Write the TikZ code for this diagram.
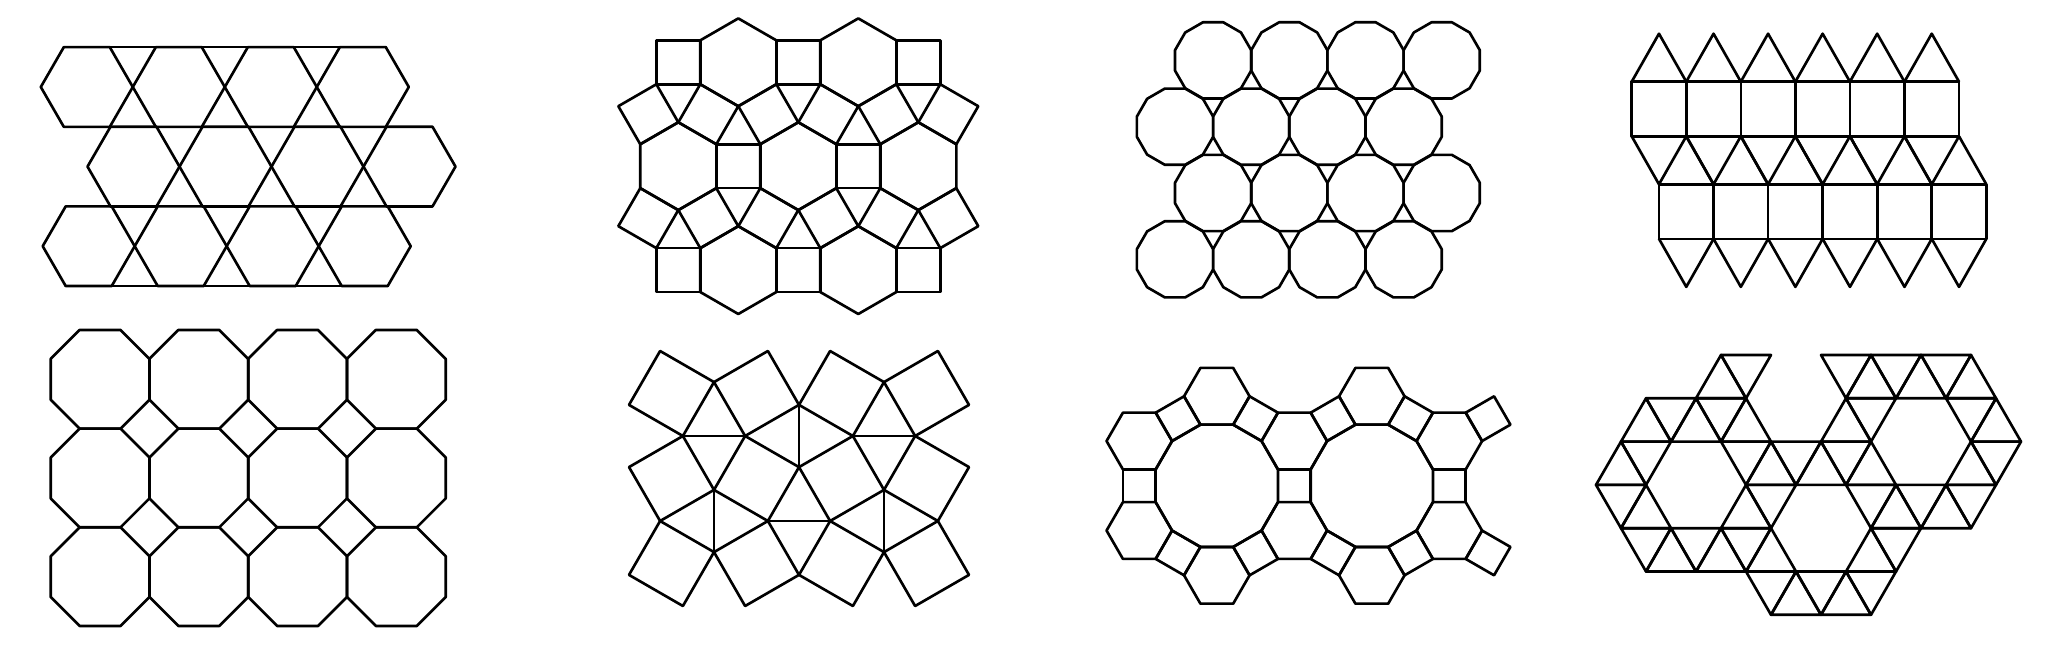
\documentclass[tikz,border=0pt]{standalone}
\tikzset{tile/.style={draw=black,line width=0.75pt,line join=round,line cap=round}}
% regular polygon: cx, cy, sides, circumradius, start angle
\newcommand\rpoly[5]{{\pgfmathtruncatemacro\rpn{#3-1}%
\draw[tile,shift={({#1},{#2})}] ({#5}:#4) \foreach \rk in {1,...,\rpn}{ -- ({#5+\rk*360/#3}:#4)} -- cycle;}}
% triangles on the lattice of the snub hexagonal panel
\newcommand\tU[2]{\draw[tile] ({1596+25*(#1)},{355+43.3*(#2)}) -- ({1596+25*(#1-1)},{355+43.3*(#2+1)}) -- ({1596+25*(#1+1)},{355+43.3*(#2+1)}) -- cycle;}
\newcommand\tD[2]{\draw[tile] ({1596+25*(#1-1)},{355+43.3*(#2)}) -- ({1596+25*(#1+1)},{355+43.3*(#2)}) -- ({1596+25*(#1)},{355+43.3*(#2+1)}) -- cycle;}
\begin{document}
\begin{tikzpicture}[x=0.01cm,y=-0.01cm]
\fill[white] (0,0) rectangle (2048,670);
\useasboundingbox (0,0) rectangle (2048,670);
% ---------- Panel 1: trihexagonal
\foreach \i in {0,...,3}{
  \rpoly{86.8+92*\i}{87}{6}{46}{0}
  \rpoly{133.5+92*\i}{166.6}{6}{46}{0}
  \rpoly{88.7+92*\i}{246.2}{6}{46}{0}
}
\draw[tile] (63.8,47.16) -- (385.8,47.16);
\draw[tile] (65.7,286.04) -- (387.7,286.04);
% ---------- Panel 2: rhombitrihexagonal
\foreach \x/\y in {678.3/166.2,798.3/166.2,918.3/166.2,738.3/62.3,858.3/62.3,738.3/270.1,858.3/270.1}{\rpoly{\x}{\y}{6}{43.9}{30}}
\foreach \x/\y in {678.3/62.3,798.3/62.3,918.3/62.3,738.3/166.2,858.3/166.2,678.3/270.1,798.3/270.1,918.3/270.1}{\rpoly{\x}{\y}{4}{31.04}{45}}
\foreach \x in {678.3,798.3,918.3}{
  \rpoly{\x-30}{114.25}{4}{31.04}{15}
  \rpoly{\x+30}{114.25}{4}{31.04}{75}
  \rpoly{\x-30}{218.15}{4}{31.04}{75}
  \rpoly{\x+30}{218.15}{4}{31.04}{15}
}
% ---------- Panel 3: truncated hexagonal
\foreach \i in {0,...,3}{
  \rpoly{1213.1+76.2*\i}{60.4}{12}{39.44}{15}
  \rpoly{1175+76.2*\i}{126.7}{12}{39.44}{15}
  \rpoly{1213.1+76.2*\i}{193}{12}{39.44}{15}
  \rpoly{1175+76.2*\i}{259.3}{12}{39.44}{15}
}
% ---------- Panel 4: elongated triangular
\foreach \i in {0,...,5}{
  \draw[tile] ({1631.7+54.55*\i},81.7) rectangle ++(54.55,54.6);
  \draw[tile] ({1631.7+54.55*\i},81.7) -- ++(27.275,-48) -- ++(27.275,48);
  \draw[tile] ({1631.7+54.55*\i},136.3) -- ++(27.275,48) -- ++(27.275,-48) -- ++(27.275,48);
  \draw[tile] ({1659+54.55*\i},184.3) rectangle ++(54.55,54.6);
  \draw[tile] ({1659+54.55*\i},238.9) -- ++(27.275,48) -- ++(27.275,-48);
}
% ---------- Panel 5: truncated square
\foreach \i in {0,...,3}{\foreach \j in {0,1,2}{\rpoly{100.1+98.75*\i}{379.3+98.67*\j}{8}{53.42}{22.5}}}
% ---------- Panel 6: snub square
\coordinate (sA) at (660.1,351); \coordinate (sB) at (714,382.1);
\coordinate (sC) at (767.9,351); \coordinate (sD) at (799,404.9);
\coordinate (sE) at (830.1,351); \coordinate (sF) at (884,382.1);
\coordinate (sG) at (937.9,351); \coordinate (sH) at (969,404.9);
\coordinate (sI) at (629,404.9); \coordinate (sJ) at (682.9,436);
\coordinate (sK) at (745.1,436); \coordinate (sL) at (852.9,436);
\coordinate (sM) at (915.1,436); \coordinate (sN) at (799,467.1);
\coordinate (sO) at (629,467.1); \coordinate (sP) at (714,489.9);
\coordinate (sQ) at (884,489.9); \coordinate (sR) at (969,467.1);
\coordinate (sS) at (660.1,521); \coordinate (sT) at (767.9,521);
\coordinate (sU) at (830.1,521); \coordinate (sV) at (937.9,521);
\coordinate (sW) at (714,552.1); \coordinate (sX) at (799,574.9);
\coordinate (sY) at (884,552.1); \coordinate (sZ) at (629,574.9);
\coordinate (sAA) at (682.9,606); \coordinate (sBB) at (745.1,606);
\coordinate (sCC) at (852.9,606); \coordinate (sDD) at (915.1,606);
\coordinate (sEE) at (969,574.9);
\foreach \a/\b/\c/\d in {sI/sA/sB/sJ, sB/sC/sD/sK, sD/sE/sF/sL, sF/sG/sH/sM,
  sO/sJ/sP/sS, sK/sN/sT/sP, sN/sL/sQ/sU, sM/sR/sV/sQ,
  sZ/sS/sW/sAA, sW/sT/sX/sBB, sX/sU/sY/sCC, sY/sV/sEE/sDD}{
  \draw[tile] (\a) -- (\b) -- (\c) -- (\d) -- cycle;}
\foreach \a/\b in {sJ/sK, sL/sM, sD/sN, sT/sU, sP/sW, sQ/sY}{\draw[tile] (\a) -- (\b);}
% ---------- Panel 7: truncated trihexagonal
\foreach \cx in {1216.8,1371.8}{\rpoly{\cx}{485.8}{12}{63.29}{15}}
\foreach \t in {30,90,150,210,270,330}{\rpoly{1216.8+89.5*cos(\t)}{485.8+89.5*sin(\t)}{6}{32.76}{0}}
\foreach \t in {30,90,270,330}{\rpoly{1371.8+89.5*cos(\t)}{485.8+89.5*sin(\t)}{6}{32.76}{0}}
\foreach \t in {0,60,120,180,240,300}{\rpoly{1216.8+77.51*cos(\t)}{485.8+77.51*sin(\t)}{4}{23.16}{\t+45}}
\foreach \t in {0,60,120,240,300}{\rpoly{1371.8+77.51*cos(\t)}{485.8+77.51*sin(\t)}{4}{23.16}{\t+45}}
\foreach \t in {120,240}{\rpoly{1526.8+77.51*cos(\t)}{485.8+77.51*sin(\t)}{4}{23.16}{\t+45}}
% ---------- Panel 8: snub hexagonal
\tU{5}{0}\tD{6}{0}\tD{10}{0}\tU{11}{0}\tD{12}{0}\tU{13}{0}\tD{14}{0}\tU{15}{0}
\tU{2}{1}\tD{3}{1}\tU{4}{1}\tD{5}{1}\tU{6}{1}\tU{10}{1}\tD{11}{1}\tD{15}{1}\tU{16}{1}
\tU{1}{2}\tD{2}{2}\tD{6}{2}\tU{7}{2}\tD{8}{2}\tU{9}{2}\tD{10}{2}\tU{11}{2}\tU{15}{2}\tD{16}{2}
\tD{1}{3}\tU{2}{3}\tU{6}{3}\tD{7}{3}\tD{11}{3}\tU{12}{3}\tD{13}{3}\tU{14}{3}\tD{15}{3}
\tD{2}{4}\tU{3}{4}\tD{4}{4}\tU{5}{4}\tD{6}{4}\tU{7}{4}\tU{11}{4}\tD{12}{4}
\tD{7}{5}\tU{8}{5}\tD{9}{5}\tU{10}{5}\tD{11}{5}
\end{tikzpicture}
\end{document}
